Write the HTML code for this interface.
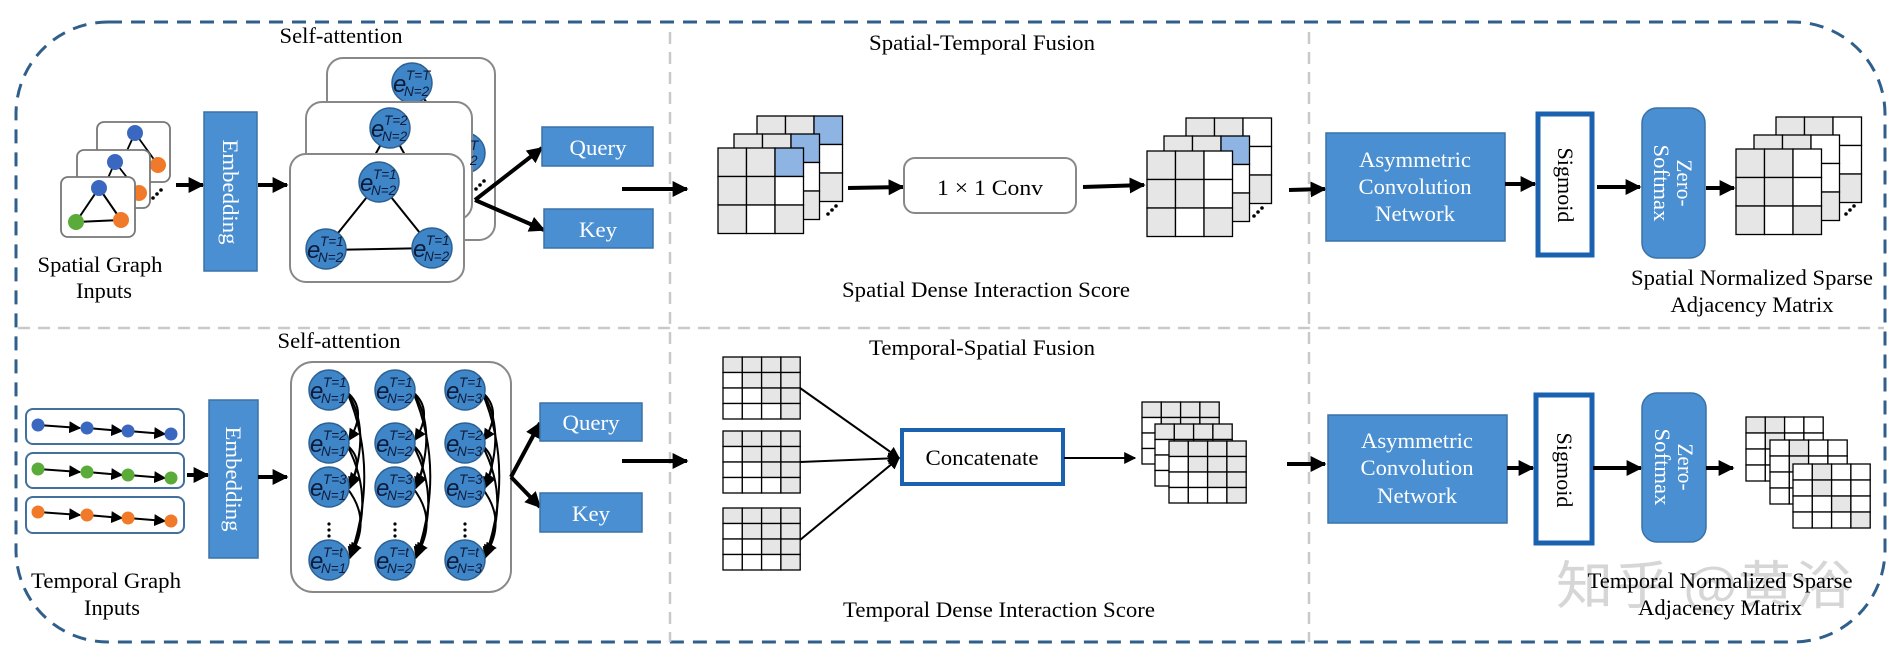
<!DOCTYPE html>
<html><head><meta charset="utf-8"><style>
html,body{margin:0;padding:0;background:#fff;}
svg{display:block;}
text{font-family:"Liberation Serif",serif;fill:#000;}
.c{font-size:22px;text-anchor:middle;}
.w{fill:#fff;}
.ne{font-family:"Liberation Sans",sans-serif;font-style:italic;font-size:24px;fill:#0d1b3a;}
.ns{font-family:"Liberation Sans",sans-serif;font-style:italic;font-size:13.5px;fill:#0d1b3a;}
.blk{fill:#4a8fd2;stroke:#3a72a8;stroke-width:1.5;}
.nd{fill:#3f86c9;stroke:#2d6193;stroke-width:1.5;}
.ar{stroke:#000;stroke-width:4;fill:none;marker-end:url(#ah);}
.ar2{stroke:#000;stroke-width:2;fill:none;marker-end:url(#ah2);}
.g{fill:#e6e6e6;stroke:#000;stroke-width:1.3;}
.x{fill:#fff;stroke:#000;stroke-width:1.3;}
.b{fill:#8db4e2;stroke:#000;stroke-width:1.3;}
</style></head><body>
<svg width="1902" height="658" viewBox="0 0 1902 658" xmlns="http://www.w3.org/2000/svg">
<defs>
<marker id="ah" viewBox="0 0 10 10" refX="9" refY="5" markerWidth="16" markerHeight="16" markerUnits="userSpaceOnUse" orient="auto"><path d="M0,0L10,5L0,10z" fill="#000"/></marker>
<marker id="ah2" viewBox="0 0 10 10" refX="9" refY="5" markerWidth="12" markerHeight="12" markerUnits="userSpaceOnUse" orient="auto"><path d="M0,0L10,5L0,10z" fill="#000"/></marker>
<g id="m3a">
<rect class="g" x="0" y="0" width="28.5" height="28.5"/><rect class="g" x="28.5" y="0" width="28.5" height="28.5"/><rect class="b" x="57" y="0" width="28.5" height="28.5"/>
<rect class="g" x="0" y="28.5" width="28.5" height="28.5"/><rect class="g" x="28.5" y="28.5" width="28.5" height="28.5"/><rect class="x" x="57" y="28.5" width="28.5" height="28.5"/>
<rect class="g" x="0" y="57" width="28.5" height="28.5"/><rect class="x" x="28.5" y="57" width="28.5" height="28.5"/><rect class="g" x="57" y="57" width="28.5" height="28.5"/>
</g>
<g id="m3b">
<rect class="g" x="0" y="0" width="28.5" height="28.5"/><rect class="g" x="28.5" y="0" width="28.5" height="28.5"/><rect class="x" x="57" y="0" width="28.5" height="28.5"/>
<rect class="g" x="0" y="28.5" width="28.5" height="28.5"/><rect class="g" x="28.5" y="28.5" width="28.5" height="28.5"/><rect class="x" x="57" y="28.5" width="28.5" height="28.5"/>
<rect class="g" x="0" y="57" width="28.5" height="28.5"/><rect class="x" x="28.5" y="57" width="28.5" height="28.5"/><rect class="g" x="57" y="57" width="28.5" height="28.5"/>
</g>
<g id="m4u">
<rect class="g" x="0" y="0" width="19.3" height="15.5"/><rect class="g" x="19.3" y="0" width="19.3" height="15.5"/><rect class="g" x="38.6" y="0" width="19.3" height="15.5"/><rect class="g" x="57.9" y="0" width="19.3" height="15.5"/>
<rect class="x" x="0" y="15.5" width="19.3" height="15.5"/><rect class="g" x="19.3" y="15.5" width="19.3" height="15.5"/><rect class="g" x="38.6" y="15.5" width="19.3" height="15.5"/><rect class="g" x="57.9" y="15.5" width="19.3" height="15.5"/>
<rect class="x" x="0" y="31" width="19.3" height="15.5"/><rect class="x" x="19.3" y="31" width="19.3" height="15.5"/><rect class="g" x="38.6" y="31" width="19.3" height="15.5"/><rect class="g" x="57.9" y="31" width="19.3" height="15.5"/>
<rect class="x" x="0" y="46.5" width="19.3" height="15.5"/><rect class="x" x="19.3" y="46.5" width="19.3" height="15.5"/><rect class="x" x="38.6" y="46.5" width="19.3" height="15.5"/><rect class="g" x="57.9" y="46.5" width="19.3" height="15.5"/>
</g>
<g id="m4d">
<rect class="x" x="0" y="0" width="19.3" height="16"/><rect class="g" x="19.3" y="0" width="19.3" height="16"/><rect class="x" x="38.6" y="0" width="19.3" height="16"/><rect class="x" x="57.9" y="0" width="19.3" height="16"/>
<rect class="x" x="0" y="16" width="19.3" height="16"/><rect class="g" x="19.3" y="16" width="19.3" height="16"/><rect class="x" x="38.6" y="16" width="19.3" height="16"/><rect class="x" x="57.9" y="16" width="19.3" height="16"/>
<rect class="x" x="0" y="32" width="19.3" height="16"/><rect class="x" x="19.3" y="32" width="19.3" height="16"/><rect class="g" x="38.6" y="32" width="19.3" height="16"/><rect class="x" x="57.9" y="32" width="19.3" height="16"/>
<rect class="x" x="0" y="48" width="19.3" height="16"/><rect class="x" x="19.3" y="48" width="19.3" height="16"/><rect class="x" x="38.6" y="48" width="19.3" height="16"/><rect class="g" x="57.9" y="48" width="19.3" height="16"/>
</g>
<g id="m4e">
<rect class="g" x="0" y="0" width="19.3" height="16"/><rect class="g" x="19.3" y="0" width="19.3" height="16"/><rect class="x" x="38.6" y="0" width="19.3" height="16"/><rect class="x" x="57.9" y="0" width="19.3" height="16"/>
<rect class="x" x="0" y="16" width="19.3" height="16"/><rect class="g" x="19.3" y="16" width="19.3" height="16"/><rect class="x" x="38.6" y="16" width="19.3" height="16"/><rect class="x" x="57.9" y="16" width="19.3" height="16"/>
<rect class="x" x="0" y="32" width="19.3" height="16"/><rect class="x" x="19.3" y="32" width="19.3" height="16"/><rect class="g" x="38.6" y="32" width="19.3" height="16"/><rect class="x" x="57.9" y="32" width="19.3" height="16"/>
<rect class="x" x="0" y="48" width="19.3" height="16"/><rect class="x" x="19.3" y="48" width="19.3" height="16"/><rect class="x" x="38.6" y="48" width="19.3" height="16"/><rect class="g" x="57.9" y="48" width="19.3" height="16"/>
</g>
</defs>

<rect x="16" y="22" width="1869" height="620" rx="92" ry="92" fill="none" stroke="#2f5f8a" stroke-width="3" stroke-dasharray="14 9"/>
<g stroke="#c9c9c9" stroke-width="2.5" stroke-dasharray="12 8">
<line x1="670" y1="32" x2="670" y2="642"/><line x1="1309" y1="32" x2="1309" y2="642"/><line x1="18" y1="328" x2="1884" y2="328"/>
</g>

<text class="c" x="341" y="43" textLength="123" lengthAdjust="spacingAndGlyphs">Self-attention</text>
<g stroke="#777" stroke-width="1.8">
<rect x="97" y="122" width="73" height="60" rx="7" fill="#fff"/>
<line x1="135" y1="133" x2="125" y2="155" stroke="#000"/><line x1="135" y1="133" x2="158" y2="165" stroke="#000"/>
<circle cx="135" cy="133" r="8" fill="#3a68c0" stroke="none"/><circle cx="158" cy="165" r="8" fill="#f07a2a" stroke="none"/>
<rect x="77" y="150" width="73" height="58" rx="7" fill="#fff"/>
<line x1="115" y1="162" x2="105" y2="185" stroke="#000"/><line x1="115" y1="162" x2="139" y2="193" stroke="#000"/>
<circle cx="115" cy="162" r="8" fill="#3a68c0" stroke="none"/><circle cx="139" cy="193" r="8" fill="#f07a2a" stroke="none"/>
<rect x="61" y="177" width="74" height="60" rx="7" fill="#fff"/>
<line x1="99" y1="188" x2="76" y2="222" stroke="#000" stroke-width="2"/><line x1="99" y1="188" x2="121" y2="220" stroke="#000" stroke-width="2"/><line x1="76" y1="222" x2="121" y2="220" stroke="#000" stroke-width="2"/>
<circle cx="99" cy="188" r="8" fill="#3a68c0" stroke="none"/><circle cx="76" cy="222" r="8" fill="#5aab3a" stroke="none"/><circle cx="121" cy="220" r="8" fill="#f07a2a" stroke="none"/>
</g>
<g fill="#000"><circle cx="153" cy="198" r="1.8"/><circle cx="157" cy="194" r="1.8"/><circle cx="161" cy="190" r="1.8"/></g>
<text class="c" x="100" y="272" textLength="125" lengthAdjust="spacingAndGlyphs">Spatial Graph</text>
<text class="c" x="104" y="298" textLength="56" lengthAdjust="spacingAndGlyphs">Inputs</text>
<line class="ar" x1="176" y1="185" x2="203" y2="185"/>
<rect class="blk" x="204" y="112" width="53" height="159"/>
<text class="c w" transform="translate(230,192) rotate(90)" y="7" textLength="105" lengthAdjust="spacingAndGlyphs">Embedding</text>
<line class="ar" x1="258" y1="185" x2="287" y2="185"/>

<g stroke="#000" stroke-width="2">
<rect x="327" y="58" width="168" height="182" rx="16" fill="#fff" stroke="#888"/>
<line x1="412" y1="83" x2="465" y2="153"/>
<circle class="nd" cx="412" cy="83" r="20"/><circle class="nd" cx="465" cy="153" r="20"/>
<rect x="306" y="102" width="166" height="118" rx="16" fill="#fff" stroke="#888"/>
<line x1="390" y1="128" x2="350" y2="200"/><line x1="390" y1="128" x2="430" y2="200"/>
<circle class="nd" cx="390" cy="128" r="20"/>
<rect x="290" y="154" width="174" height="128" rx="16" fill="#fff" stroke="#888"/>
<line x1="379" y1="182" x2="326" y2="248"/><line x1="379" y1="182" x2="432" y2="248"/><line x1="326" y1="250" x2="432" y2="248"/>
<circle class="nd" cx="379" cy="182" r="20"/><circle class="nd" cx="326" cy="249" r="20"/><circle class="nd" cx="432" cy="248" r="20"/>
</g>
<g transform="translate(412,83)"><text class="ne" x="-19" y="9">e</text><text class="ns" x="-6" y="-3">T=T</text><text class="ns" x="-8" y="13">N=2</text></g>
<g transform="translate(390,128)"><text class="ne" x="-19" y="9">e</text><text class="ns" x="-6" y="-3">T=2</text><text class="ns" x="-8" y="13">N=2</text></g>
<g transform="translate(379,182)"><text class="ne" x="-19" y="9">e</text><text class="ns" x="-6" y="-3">T=1</text><text class="ns" x="-8" y="13">N=2</text></g>
<g transform="translate(326,249)"><text class="ne" x="-19" y="9">e</text><text class="ns" x="-6" y="-3">T=1</text><text class="ns" x="-8" y="13">N=2</text></g>
<g transform="translate(432,248)"><text class="ne" x="-19" y="9">e</text><text class="ns" x="-6" y="-3">T=1</text><text class="ns" x="-8" y="13">N=2</text></g>
<text class="ns" x="470" y="150">T</text><text class="ns" x="470" y="165">2</text>
<g fill="#000"><circle cx="476" cy="189" r="1.8"/><circle cx="480" cy="185" r="1.8"/><circle cx="484" cy="181" r="1.8"/></g>
<line class="ar" x1="475" y1="200" x2="542" y2="148"/>
<line class="ar" x1="475" y1="200" x2="544" y2="230"/>
<rect class="blk" x="542" y="127" width="111" height="39"/>
<text class="c w" x="598" y="155" textLength="57" lengthAdjust="spacingAndGlyphs">Query</text>
<rect class="blk" x="544" y="209" width="109" height="39"/>
<text class="c w" x="598" y="237" textLength="38" lengthAdjust="spacingAndGlyphs">Key</text>
<line class="ar" x1="622" y1="189" x2="687" y2="189"/>

<text class="c" x="982" y="50" textLength="226" lengthAdjust="spacingAndGlyphs">Spatial-Temporal Fusion</text>
<use href="#m3a" x="757" y="116"/><use href="#m3a" x="734" y="134"/><use href="#m3a" x="718" y="148"/>
<g fill="#000"><circle cx="828" cy="214" r="1.8"/><circle cx="832" cy="210" r="1.8"/><circle cx="836" cy="206" r="1.8"/></g>
<line class="ar" x1="848" y1="188" x2="903" y2="187"/>
<rect x="904" y="158" width="172" height="55" rx="11" fill="#fff" stroke="#888" stroke-width="2"/>
<text class="c" x="990" y="195" textLength="106" lengthAdjust="spacingAndGlyphs">1 × 1 Conv</text>
<line class="ar" x1="1083" y1="187" x2="1144" y2="185"/>
<use href="#m3b" x="1186" y="118"/><use href="#m3a" x="1164" y="136"/><use href="#m3b" x="1147" y="151"/>
<g fill="#000"><circle cx="1254" cy="216" r="1.8"/><circle cx="1258" cy="212" r="1.8"/><circle cx="1262" cy="208" r="1.8"/></g>
<text class="c" x="986" y="297" textLength="288" lengthAdjust="spacingAndGlyphs">Spatial Dense Interaction Score</text>

<line class="ar" x1="1289" y1="190" x2="1325" y2="189"/>
<rect class="blk" x="1326" y="133" width="179" height="108"/>
<text class="c w" x="1415" y="167" textLength="112" lengthAdjust="spacingAndGlyphs">Asymmetric</text>
<text class="c w" x="1415" y="194" textLength="113" lengthAdjust="spacingAndGlyphs">Convolution</text>
<text class="c w" x="1415" y="221" textLength="80" lengthAdjust="spacingAndGlyphs">Network</text>
<line class="ar" x1="1505" y1="184" x2="1535" y2="184"/>
<rect x="1538" y="114" width="54" height="141" fill="#fff" stroke="#1a62b0" stroke-width="5"/>
<text class="c" transform="translate(1565,185) rotate(90)" y="7" textLength="75" lengthAdjust="spacingAndGlyphs">Sigmoid</text>
<line class="ar" x1="1597" y1="187" x2="1640" y2="187"/>
<rect class="blk" x="1642" y="108" width="63" height="150" rx="15"/>
<text class="c w" transform="translate(1673,183) rotate(90)" y="-4" textLength="47" lengthAdjust="spacingAndGlyphs">Zero-</text>
<text class="c w" transform="translate(1673,183) rotate(90)" y="19" textLength="77" lengthAdjust="spacingAndGlyphs">Softmax</text>
<line class="ar" x1="1706" y1="188" x2="1734" y2="188"/>
<use href="#m3b" x="1776" y="117"/><use href="#m3b" x="1754" y="135"/><use href="#m3b" x="1736" y="149"/>
<g fill="#000"><circle cx="1846" cy="214" r="1.8"/><circle cx="1850" cy="210" r="1.8"/><circle cx="1854" cy="206" r="1.8"/></g>
<text class="c" x="1752" y="285" textLength="242" lengthAdjust="spacingAndGlyphs">Spatial Normalized Sparse</text>
<text class="c" x="1752" y="312" textLength="163" lengthAdjust="spacingAndGlyphs">Adjacency Matrix</text>

<text class="c" x="339" y="348" textLength="123" lengthAdjust="spacingAndGlyphs">Self-attention</text>
<g fill="#fff" stroke="#41719c" stroke-width="2">
<rect x="26" y="409" width="158" height="35" rx="7"/><rect x="26" y="453" width="158" height="35" rx="7"/><rect x="26" y="497" width="158" height="36" rx="7"/>
</g>
<g>
<line class="ar2" x1="38" y1="425" x2="80" y2="428"/><line class="ar2" x1="87" y1="428" x2="122" y2="431"/><line class="ar2" x1="128" y1="431" x2="165" y2="434"/>
<line class="ar2" x1="38" y1="469" x2="80" y2="472"/><line class="ar2" x1="87" y1="472" x2="122" y2="475"/><line class="ar2" x1="128" y1="475" x2="165" y2="478"/>
<line class="ar2" x1="38" y1="512" x2="80" y2="515"/><line class="ar2" x1="87" y1="515" x2="122" y2="518"/><line class="ar2" x1="128" y1="518" x2="165" y2="521"/>
</g>
<g fill="#3a68c0"><circle cx="38" cy="425" r="6.5"/><circle cx="87" cy="428" r="6.5"/><circle cx="128" cy="431" r="6.5"/><circle cx="171" cy="434" r="6.5"/></g>
<g fill="#5aab3a"><circle cx="38" cy="469" r="6.5"/><circle cx="87" cy="472" r="6.5"/><circle cx="128" cy="475" r="6.5"/><circle cx="171" cy="478" r="6.5"/></g>
<g fill="#f07a2a"><circle cx="38" cy="512" r="6.5"/><circle cx="87" cy="515" r="6.5"/><circle cx="128" cy="518" r="6.5"/><circle cx="171" cy="521" r="6.5"/></g>
<text class="c" x="106" y="588" textLength="150" lengthAdjust="spacingAndGlyphs">Temporal Graph</text>
<text class="c" x="112" y="615" textLength="56" lengthAdjust="spacingAndGlyphs">Inputs</text>
<line class="ar" x1="187" y1="475" x2="208" y2="475"/>
<rect class="blk" x="209" y="400" width="49" height="158"/>
<text class="c w" transform="translate(233,479) rotate(90)" y="7" textLength="105" lengthAdjust="spacingAndGlyphs">Embedding</text>
<line class="ar" x1="258" y1="477" x2="287" y2="477"/>
<rect x="291" y="362" width="220" height="230" rx="22" fill="#fff" stroke="#888" stroke-width="2"/>
<g stroke="#000" stroke-width="2" fill="none" marker-end="url(#ah2)">
<path d="M347,392 Q368,410 349,440"/><path d="M347,392 Q372,430 350,488"/><path d="M347,392 Q380,470 350,558"/>
<path d="M347,445 Q366,462 349,484"/><path d="M347,445 Q376,500 350,556"/><path d="M347,488 Q372,520 351,554"/>
<path d="M413,392 Q434,410 415,440"/><path d="M413,392 Q438,430 416,488"/><path d="M413,392 Q446,470 416,558"/>
<path d="M413,445 Q432,462 415,484"/><path d="M413,445 Q442,500 416,556"/><path d="M413,488 Q438,520 417,554"/>
<path d="M482,392 Q503,410 484,440"/><path d="M482,392 Q507,430 485,488"/><path d="M482,392 Q515,470 485,558"/>
<path d="M482,445 Q501,462 484,484"/><path d="M482,445 Q511,500 485,556"/><path d="M482,488 Q507,520 486,554"/>
</g>
<g>
<circle class="nd" cx="329" cy="390" r="20"/><circle class="nd" cx="395" cy="390" r="20"/><circle class="nd" cx="465" cy="390" r="20"/>
<circle class="nd" cx="329" cy="443" r="20"/><circle class="nd" cx="395" cy="443" r="20"/><circle class="nd" cx="465" cy="443" r="20"/>
<circle class="nd" cx="329" cy="487" r="20"/><circle class="nd" cx="395" cy="487" r="20"/><circle class="nd" cx="465" cy="487" r="20"/>
<circle class="nd" cx="329" cy="560" r="20"/><circle class="nd" cx="395" cy="560" r="20"/><circle class="nd" cx="465" cy="560" r="20"/>
</g>
<g transform="translate(329,390)"><text class="ne" x="-19" y="9">e</text><text class="ns" x="-6" y="-3">T=1</text><text class="ns" x="-8" y="13">N=1</text></g>
<g transform="translate(395,390)"><text class="ne" x="-19" y="9">e</text><text class="ns" x="-6" y="-3">T=1</text><text class="ns" x="-8" y="13">N=2</text></g>
<g transform="translate(465,390)"><text class="ne" x="-19" y="9">e</text><text class="ns" x="-6" y="-3">T=1</text><text class="ns" x="-8" y="13">N=3</text></g>
<g transform="translate(329,443)"><text class="ne" x="-19" y="9">e</text><text class="ns" x="-6" y="-3">T=2</text><text class="ns" x="-8" y="13">N=1</text></g>
<g transform="translate(395,443)"><text class="ne" x="-19" y="9">e</text><text class="ns" x="-6" y="-3">T=2</text><text class="ns" x="-8" y="13">N=2</text></g>
<g transform="translate(465,443)"><text class="ne" x="-19" y="9">e</text><text class="ns" x="-6" y="-3">T=2</text><text class="ns" x="-8" y="13">N=3</text></g>
<g transform="translate(329,487)"><text class="ne" x="-19" y="9">e</text><text class="ns" x="-6" y="-3">T=3</text><text class="ns" x="-8" y="13">N=1</text></g>
<g transform="translate(395,487)"><text class="ne" x="-19" y="9">e</text><text class="ns" x="-6" y="-3">T=3</text><text class="ns" x="-8" y="13">N=2</text></g>
<g transform="translate(465,487)"><text class="ne" x="-19" y="9">e</text><text class="ns" x="-6" y="-3">T=3</text><text class="ns" x="-8" y="13">N=3</text></g>
<g transform="translate(329,560)"><text class="ne" x="-19" y="9">e</text><text class="ns" x="-6" y="-3">T=t</text><text class="ns" x="-8" y="13">N=1</text></g>
<g transform="translate(395,560)"><text class="ne" x="-19" y="9">e</text><text class="ns" x="-6" y="-3">T=t</text><text class="ns" x="-8" y="13">N=2</text></g>
<g transform="translate(465,560)"><text class="ne" x="-19" y="9">e</text><text class="ns" x="-6" y="-3">T=t</text><text class="ns" x="-8" y="13">N=3</text></g>
<g fill="#000"><circle cx="329" cy="524" r="1.6"/><circle cx="329" cy="530" r="1.6"/><circle cx="329" cy="536" r="1.6"/>
<circle cx="395" cy="524" r="1.6"/><circle cx="395" cy="530" r="1.6"/><circle cx="395" cy="536" r="1.6"/>
<circle cx="465" cy="524" r="1.6"/><circle cx="465" cy="530" r="1.6"/><circle cx="465" cy="536" r="1.6"/></g>
<line class="ar" x1="511" y1="477" x2="540" y2="423"/>
<line class="ar" x1="511" y1="477" x2="540" y2="507"/>
<rect class="blk" x="540" y="403" width="102" height="38"/>
<text class="c w" x="591" y="430" textLength="57" lengthAdjust="spacingAndGlyphs">Query</text>
<rect class="blk" x="540" y="493" width="102" height="39"/>
<text class="c w" x="591" y="521" textLength="38" lengthAdjust="spacingAndGlyphs">Key</text>
<line class="ar" x1="622" y1="461" x2="687" y2="461"/>

<text class="c" x="982" y="355" textLength="226" lengthAdjust="spacingAndGlyphs">Temporal-Spatial Fusion</text>
<use href="#m4u" x="723" y="357"/><use href="#m4u" x="723" y="431"/><use href="#m4u" x="723" y="508"/>
<line class="ar2" x1="800" y1="388" x2="899" y2="458"/>
<line class="ar2" x1="800" y1="462" x2="899" y2="458"/>
<line class="ar2" x1="800" y1="540" x2="899" y2="458"/>
<rect x="902" y="430" width="161" height="54" fill="#fff" stroke="#1a62b0" stroke-width="4"/>
<text class="c" x="982" y="465" textLength="113" lengthAdjust="spacingAndGlyphs">Concatenate</text>
<line class="ar2" x1="1064" y1="458" x2="1135" y2="458"/>
<use href="#m4u" x="1142" y="402"/><use href="#m4u" x="1155" y="424"/><use href="#m4u" x="1169" y="441"/>
<text class="c" x="999" y="617" textLength="312" lengthAdjust="spacingAndGlyphs">Temporal Dense Interaction Score</text>

<line class="ar" x1="1287" y1="464" x2="1325" y2="464"/>
<rect class="blk" x="1328" y="415" width="179" height="108"/>
<text class="c w" x="1417" y="448" textLength="112" lengthAdjust="spacingAndGlyphs">Asymmetric</text>
<text class="c w" x="1417" y="475" textLength="113" lengthAdjust="spacingAndGlyphs">Convolution</text>
<text class="c w" x="1417" y="503" textLength="80" lengthAdjust="spacingAndGlyphs">Network</text>
<line class="ar" x1="1507" y1="468" x2="1533" y2="468"/>
<rect x="1536" y="395" width="56" height="148" fill="#fff" stroke="#1a62b0" stroke-width="5"/>
<text class="c" transform="translate(1564,470) rotate(90)" y="7" textLength="75" lengthAdjust="spacingAndGlyphs">Sigmoid</text>
<line class="ar" x1="1593" y1="468" x2="1641" y2="468"/>
<rect class="blk" x="1642" y="393" width="64" height="149" rx="15"/>
<text class="c w" transform="translate(1674,467) rotate(90)" y="-4" textLength="47" lengthAdjust="spacingAndGlyphs">Zero-</text>
<text class="c w" transform="translate(1674,467) rotate(90)" y="19" textLength="77" lengthAdjust="spacingAndGlyphs">Softmax</text>
<line class="ar" x1="1706" y1="468" x2="1733" y2="468"/>
<use href="#m4e" x="1746" y="417"/><use href="#m4d" x="1770" y="440"/><use href="#m4d" x="1793" y="464"/>
<text x="1556" y="604" style="font-family:'Noto Sans CJK SC',sans-serif;font-size:52px;fill:#c8c8c8;fill-opacity:0.75" textLength="296" lengthAdjust="spacingAndGlyphs">知乎 @黄浴</text>
<text class="c" x="1720" y="588" textLength="265" lengthAdjust="spacingAndGlyphs">Temporal Normalized Sparse</text>
<text class="c" x="1720" y="615" textLength="164" lengthAdjust="spacingAndGlyphs">Adjacency Matrix</text>
</svg>
</body></html>
